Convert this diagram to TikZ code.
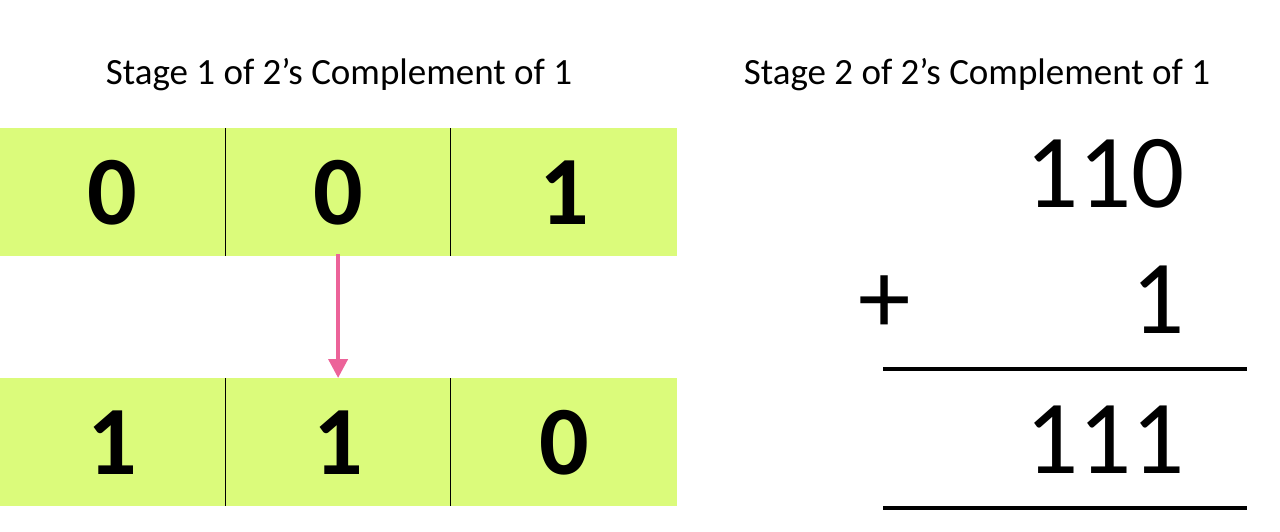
\documentclass[tikz,border=0pt]{standalone}
\usepackage{fontspec}
\setmainfont{Carlito}
\usetikzlibrary{arrows.meta}
\definecolor{cellgreen}{HTML}{DBFB7B}
\definecolor{arrowpink}{HTML}{EC6399}
\tikzset{
  bitcell/.style={rectangle, fill=cellgreen, inner sep=0pt, minimum height=128pt,
    font=\fontsize{98}{100}\selectfont\bfseries},
  stagetitle/.style={anchor=base, inner sep=0pt, font=\fontsize{37}{40}\selectfont},
  sumdigits/.style={anchor=base, inner sep=0pt, font=\fontsize{105}{110}\selectfont},
}
\begin{document}
\begin{tikzpicture}[x=1pt,y=-1pt]
            \useasboundingbox[fill=white] (0,0) rectangle (1280,531);
            % stage 1
            \node[stagetitle] (title1) at (339,84) {Stage 1 of 2’s Complement of 1};
            \node[bitcell, minimum width=225pt, anchor=north west] (t1) at (0,128) {0};
            \node[bitcell, minimum width=225pt, anchor=north west] (t2) at (t1.north east) {0};
            \node[bitcell, minimum width=226pt, anchor=north west] (t3) at (t2.north east) {1};
            \node[bitcell, minimum width=225pt, anchor=north west] (b1) at (0,378) {1};
            \node[bitcell, minimum width=225pt, anchor=north west] (b2) at (b1.north east) {1};
            \node[bitcell, minimum width=226pt, anchor=north west] (b3) at (b2.north east) {0};
            \draw[line width=1.2pt] (t1.north east) -- (t1.south east); % separators
            \draw[line width=1.2pt] (t2.north east) -- (t2.south east);
            \draw[line width=1.2pt] (b1.north east) -- (b1.south east);
            \draw[line width=1.2pt] (b2.north east) -- (b2.south east);
            \draw[arrowpink, line width=4pt, -{Triangle[width=19pt,length=19pt]}] ([yshift=2pt]t2.south) -- (b2.north);
            % stage 2
            \node[stagetitle] (title2) at (977,84) {Stage 2 of 2’s Complement of 1};
            \node[sumdigits] (addend) at (1105,207) {110};
            \node[sumdigits] (plus) at (885,333) {+};
            \node[sumdigits] (one) at (1158,333) {1};
            \coordinate (rule1l) at (883,369);
            \coordinate (rule1r) at (1247,369);
            \draw[line width=4pt] (rule1l) -- (rule1r);
            \node[sumdigits] (result) at (1105,473) {111};
            \coordinate (rule2l) at (883,508);
            \coordinate (rule2r) at (1247,508);
            \draw[line width=4pt] (rule2l) -- (rule2r);
        \end{tikzpicture}
\end{document}
